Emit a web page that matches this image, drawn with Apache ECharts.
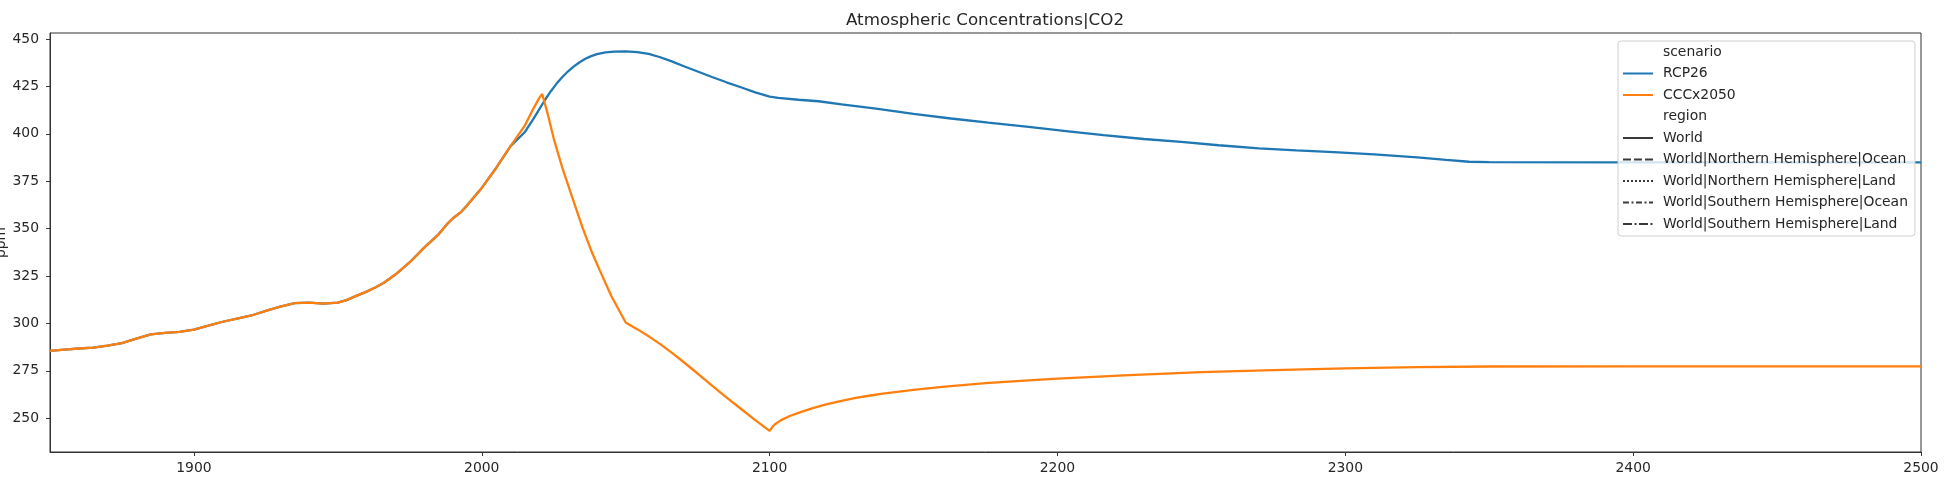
<!DOCTYPE html>
<html>
<head>
<meta charset="utf-8">
<script src="https://cdn.jsdelivr.net/npm/echarts@6/dist/echarts.min.js"></script>
<style>
html,body{margin:0;padding:0;background:#fff;}
#chart{width:1958px;height:482px;}
</style>
</head>
<body>
<div id="chart"></div>
<script>
// Shared historical concentrations (ppm)
const histYears  = [1850,1855,1860,1865,1870,1875,1880,1885,1890,1895,1900,1905,1910,1915,1920,1925,1930,1935,1940,1945,1950,1953,1956,1960,1963,1966,1970,1975,1980,1985,1988,1990,1993,1995,2000,2005,2010];
const histValues = [285.5,286.2,286.8,287.3,288.3,289.6,292.0,294.2,295.0,295.6,296.8,298.8,300.9,302.6,304.2,306.6,308.9,310.7,311.0,310.5,311.0,312.3,314.3,316.8,319.0,321.5,325.8,332.3,340.0,347.0,352.5,355.5,359.0,362.5,371.5,382.0,393.5];

// RCP26 after 2010
const rcpYears  = [2015,2018,2020,2022,2024,2026,2028,2030,2032,2034,2036,2038,2040,2043,2046,2050,2054,2058,2062,2066,2070,2075,2080,2085,2090,2095,2100,2103,2110,2117,2125,2137,2150,2163,2176,2190,2203,2216,2230,2243,2256,2270,2283,2296,2310,2325,2335,2343,2350,2400,2450,2500];
const rcpValues = [401.0,408.0,413.0,418.0,422.5,426.5,430.0,433.0,435.6,437.8,439.6,441.0,442.1,443.0,443.4,443.5,443.1,442.2,440.4,438.2,435.8,432.9,430.0,427.2,424.6,421.9,419.6,419.0,418.0,417.2,415.5,413.3,410.6,408.1,405.9,403.7,401.5,399.3,397.3,395.8,394.0,392.3,391.3,390.4,389.2,387.6,386.3,385.3,385.1,385.0,385.0,385.0];

// CCCx2050 after 2010
const cccYears  = [2015,2018,2020,2021,2023,2025,2028,2031,2035,2038,2041,2045,2050,2054,2058,2062,2066,2070,2075,2080,2085,2090,2095,2100,2101,2102,2104,2107,2110,2115,2120,2125,2130,2135,2140,2150,2160,2175,2190,2200,2225,2250,2275,2300,2325,2350,2400,2450,2500];
const cccValues = [404.5,413.5,419.0,421.0,410.0,397.5,382.0,368.5,350.5,338.5,328.0,314.5,300.5,297.0,293.2,289.1,284.6,279.8,273.6,267.2,261.0,255.0,249.0,243.3,245.5,247.0,249.0,251.2,252.8,255.3,257.4,259.2,260.7,262.0,263.1,265.0,266.6,268.5,270.0,270.9,272.8,274.3,275.4,276.3,277.0,277.3,277.4,277.4,277.4];

const xTicks = [1900,2000,2100,2200,2300,2400,2500];
const yTicks = [250,275,300,325,350,375,400,425,450];

const scenarioNames = ['RCP26','CCCx2050'];
const scenarioColors = ['#1f77b4','#ff7f0e'];
const regionNames = ['World','World|Northern Hemisphere|Ocean','World|Northern Hemisphere|Land','World|Southern Hemisphere|Ocean','World|Southern Hemisphere|Land'];
const regionDashes = ['solid',[8,3],[2,2],[6,2.5,2,2.5],[9,2.5,2,2.5]];

function pairs(xs, vs){ return xs.map((x,i)=>[x, vs[i]]); }
const histData = pairs(histYears, histValues);
const rcpData = histData.concat(pairs(rcpYears, rcpValues));
const cccData = histData.concat(pairs(cccYears, cccValues));

const FONT = 'DejaVu Sans';
const FS = 13.9;
const series = [
  {name: scenarioNames[0], type:'line', data: rcpData, symbol:'none', showSymbol:false, lineStyle:{color:scenarioColors[0], width:2.3}, itemStyle:{color:scenarioColors[0]}, z:2},
  {name: scenarioNames[1], type:'line', data: cccData, symbol:'none', showSymbol:false, lineStyle:{color:scenarioColors[1], width:2.3}, itemStyle:{color:scenarioColors[1]}, z:3},
  {name:'scenario', type:'line', data:[], symbol:'none'},
  {name:'region', type:'line', data:[], symbol:'none'}
];
regionNames.forEach((n,i)=>{
  series.push({name:n, type:'line', data:[], symbol:'none', showSymbol:false, lineStyle:{color:'#3a3a3a', width:2.2, type: regionDashes[i]}, itemStyle:{color:'#3a3a3a'}});
});

const legendData = [
  {name:'scenario', icon:'none'},
  {name:'RCP26'},
  {name:'CCCx2050'},
  {name:'region', icon:'none'}
].concat(regionNames.map(n=>({name:n})));

const chart = echarts.init(document.getElementById('chart'), null, {renderer:'canvas'});
chart.setOption({
  animation:false,
  backgroundColor:'#fff',
  title:{
    text:'Atmospheric Concentrations|CO2',
    left:985, top:12, padding:0, textAlign:'center',
    textStyle:{fontFamily:FONT, fontSize:16.7, fontWeight:'normal', color:'#262626'}
  },
  grid:{left:50, right:37, top:33, bottom:30, outerBoundsMode:'none', containLabel:false, show:true, borderColor:'#333', borderWidth:1, backgroundColor:'transparent'},
  legend:{
    orient:'vertical', left:1618, top:41,
    data: legendData,
    itemWidth:30, itemHeight:14, itemGap:7.5,
    padding:[4,7,5,4],
    backgroundColor:'rgba(255,255,255,0.8)',
    borderColor:'#d0d0d0', borderWidth:1, borderRadius:3,
    selectedMode:false,
    itemStyle:{opacity:0},
    textStyle:{fontFamily:FONT, fontSize:FS, color:'#262626', padding:[0,0,0,5]}
  },
  xAxis:{
    type:'value', min:1850, max:2500,
    axisLine:{show:true, lineStyle:{color:'#333', width:1}},
    axisTick:{show:true, length:4, lineStyle:{color:'#333'}, customValues: xTicks},
    axisLabel:{fontFamily:FONT, fontSize:FS, color:'#262626', margin:9, customValues: xTicks, formatter:(v)=>String(v)},
    splitLine:{show:false}
  },
  yAxis:{
    type:'value', min:232.2, max:453.2,
    name:'ppm', nameLocation:'middle', nameGap:42, nameRotate:90, nameMoveOverlap:false,
    nameTextStyle:{fontFamily:FONT, fontSize:FS, color:'#262626'},
    axisLine:{show:true, lineStyle:{color:'#333', width:1}},
    axisTick:{show:true, length:4, lineStyle:{color:'#333'}, customValues: yTicks},
    axisLabel:{fontFamily:FONT, fontSize:FS, color:'#262626', margin:11, customValues: yTicks, formatter:(v)=>String(v)},
    splitLine:{show:false}
  },
  series: series
});
</script>
</body>
</html>
